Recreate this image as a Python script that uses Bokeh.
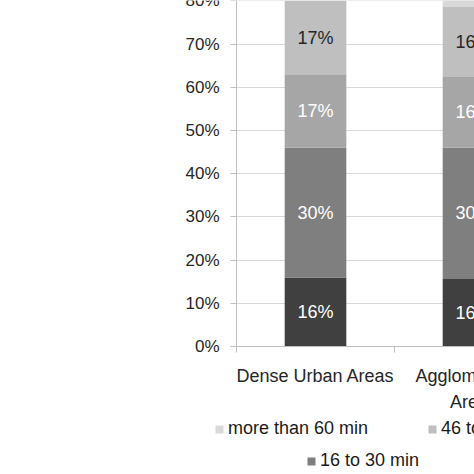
from bokeh.plotting import figure
from bokeh.models import ColumnDataSource, Range1d, FixedTicker, Legend, LegendItem, Grid
from bokeh.core.properties import value
from bokeh.embed import file_html
from bokeh.resources import INLINE

# ---- data ----
categories = ["Dense Urban Areas", "Agglomeration\nAreas"]
series = ["up to 15 min", "16 to 30 min", "31 to 45 min", "46 to 60 min", "more than 60 min"]
up_to_15 = [16, 15.6]
min_16_30 = [30, 30.4]
min_31_45 = [17, 16.4]
min_46_60 = [17, 16.2]
more_60 = [20, 21.4]
y_ticks = [0, 10, 20, 30, 40, 50, 60, 70, 80]
y_tick_labels = [f"{t}%" for t in y_ticks]

colors = ["#404040", "#7f7f7f", "#a6a6a6", "#bfbfbf", "#d9d9d9"]
label_colors = ["#ffffff", "#ffffff", "#ffffff", "#262626", "#262626"]
FONT = "Liberation Sans"

values = [up_to_15, min_16_30, min_31_45, min_46_60, more_60]
xs = [i + 0.5 for i in range(len(categories))]

# ---- view geometry (a cropped view of the chart) ----
W = H = 474
AX_X, AX_Y = 236, 346          # pixel position of the axes origin
PX_PER_CAT, PX_PER_PCT = 158, 4.32
x_range = Range1d(-AX_X / PX_PER_CAT, (W - AX_X) / PX_PER_CAT)
y_range = Range1d(-(H - AX_Y) / PX_PER_PCT, AX_Y / PX_PER_PCT)

data = {"x": xs}
for name, vals in zip(series, values):
    data[name] = vals
source = ColumnDataSource(data)

p = figure(width=W, height=H, output_backend="svg", toolbar_location=None,
           x_range=x_range, y_range=y_range,
           min_border_left=0, min_border_right=0, min_border_top=0,
           min_border_bottom=0)
p.outline_line_color = None
p.background_fill_color = "white"
p.border_fill_color = "white"

# grid (only right of the y axis)
p.xgrid.grid_line_color = None
p.ygrid.ticker = FixedTicker(ticks=y_ticks)
p.ygrid.grid_line_color = "#d9d9d9"
if "cross_bounds" in Grid.properties():
    p.ygrid.cross_bounds = (0, x_range.end)
else:
    p.ygrid.grid_line_color = None
    p.segment(x0=0, x1=x_range.end, y0=y_ticks, y1=y_ticks,
              line_color="#d9d9d9", line_width=1, level="underlay")

renderers = p.vbar_stack(series, x="x", width=0.39, color=colors,
                         line_color=None, source=source)

# segment labels
lx, ly, lt, lc = [], [], [], []
for j in range(len(categories)):
    bottom = 0
    for k, vals in enumerate(values):
        v = vals[j]
        lx.append(xs[j])
        ly.append(bottom + v / 2)
        lt.append(f"{round(v)}%")
        lc.append(label_colors[k])
        bottom += v
lsrc = ColumnDataSource(dict(x=lx, y=ly, text=lt, color=lc))
p.text(x="x", y="y", text="text", text_color="color", source=lsrc,
       text_align="center", text_baseline="middle",
       text_font=value(FONT), text_font_size="18px")

# category labels under the x axis
csrc = ColumnDataSource(dict(x=xs, y=[0] * len(xs), text=categories))
p.text(x="x", y="y", text="text", source=csrc, y_offset=19,
       text_align="center", text_baseline="top", text_line_height=1.3,
       text_color="#262626", text_font=value(FONT), text_font_size="18px")

# y axis (line + ticks), tick labels drawn next to it so the top one crops
p.yaxis.fixed_location = 0
p.yaxis.bounds = (0, y_range.end)
p.yaxis.ticker = FixedTicker(ticks=y_ticks)
p.yaxis.major_label_overrides = {t: "" for t in y_ticks}
p.yaxis.axis_line_color = "#bfbfbf"
p.yaxis.major_tick_line_color = "#bfbfbf"
p.yaxis.major_tick_out = 6
p.yaxis.major_tick_in = 0
p.yaxis.minor_tick_line_color = None

ysrc = ColumnDataSource(dict(x=[0] * len(y_ticks), y=y_ticks, text=y_tick_labels))
p.text(x="x", y="y", text="text", source=ysrc, x_offset=-17,
       text_align="right", text_baseline="middle",
       text_color="#262626", text_font=value(FONT), text_font_size="17px")

# x axis (category boundaries as ticks)
p.xaxis.fixed_location = 0
p.xaxis.bounds = (0, x_range.end)
p.xaxis.ticker = FixedTicker(ticks=[], minor_ticks=[0, 1, 2])
p.xaxis.axis_line_color = "#bfbfbf"
p.xaxis.major_tick_line_color = None
p.xaxis.minor_tick_line_color = "#bfbfbf"
p.xaxis.minor_tick_out = 6
p.xaxis.minor_tick_in = 0

# legend entries (Excel-style centered rows)
legend_rows = [
    ("more than 60 min", 4, (214, 35)),
    ("46 to 60 min", 3, (427, 35)),
    ("16 to 30 min", 1, (306, 3)),
]
for label, idx, loc in legend_rows:
    leg = Legend(items=[LegendItem(label=label, renderers=[renderers[idx]])],
                 location=loc, orientation="horizontal",
                 glyph_width=10, glyph_height=10, label_standoff=4,
                 label_height=20, padding=0, margin=0, spacing=0,
                 border_line_color=None, background_fill_alpha=0,
                 label_text_font=FONT, label_text_font_size="18px",
                 label_text_color="#1a1a1a")
    p.add_layout(leg)

open("out.html", "w").write(file_html(p, INLINE))
